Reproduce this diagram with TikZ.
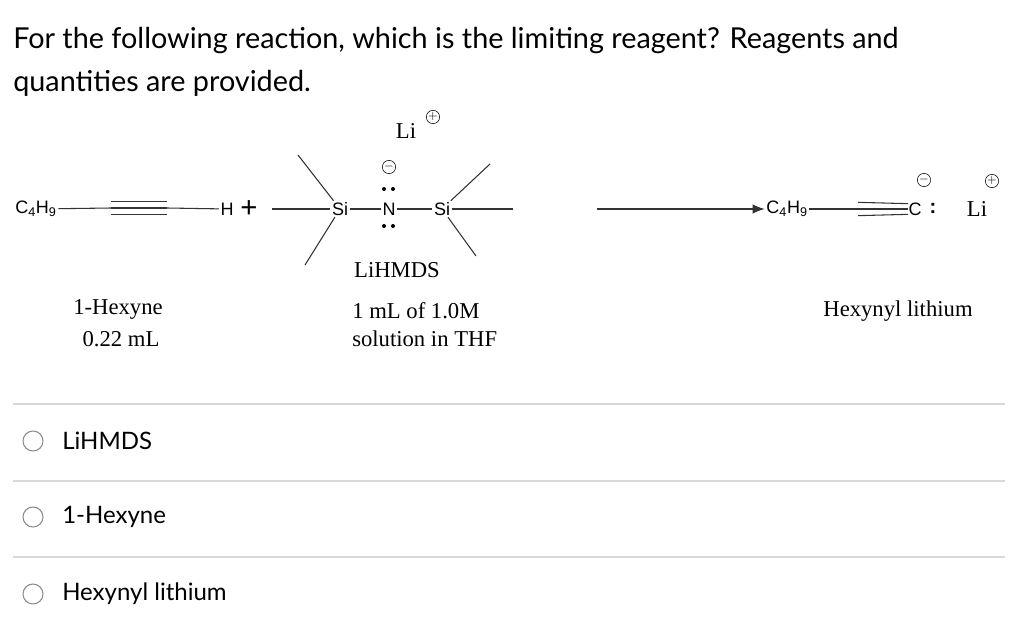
\documentclass[tikz,border=0pt]{standalone}
\usepackage{fontspec}
\setmainfont{Lato}
\newfontfamily\serifx{Liberation Serif}
\newfontfamily\sansx{Liberation Sans}
\usetikzlibrary{arrows.meta}
\begin{document}
\begin{tikzpicture}[x=0.75pt,y=-0.75pt,
  q/.style={anchor=base west,font=\fontsize{21.6}{24}\selectfont,inner sep=0},
  opt/.style={anchor=west,font=\fontsize{18}{20}\selectfont,inner sep=0},
  atm/.style={font=\sansx\fontsize{13.5}{15}\selectfont,inner sep=1pt},
  lab/.style={font=\serifx\fontsize{17}{19}\selectfont,inner sep=0},
  bond/.style={line width=0.8pt,draw=black!80},
  chg/.style={circle,draw,inner sep=0,minimum size=10pt,font=\sansx\fontsize{9}{9}\selectfont},
  sep/.style={draw=black!15,line width=0.8pt},
  radio/.style={circle,draw=black!45,line width=0.8pt,minimum size=15pt,inner sep=0}]
\useasboundingbox (0,0) rectangle (1024,631);
\node[q] (q1) at (13,49) {For the following reaction, which is the limiting reagent? Reagents and};
\node[q] (q2) at (13,92) {quantities are provided.};
% hexyne
\node[atm] (c4) at (36,209) {C\textsubscript{4}H\textsubscript{9}};
\node[atm] (h) at (227,209) {H};
\coordinate (t1) at (111,208); \coordinate (t2) at (167,208);
\draw[bond] (c4) -- (t1);
\draw[bond] (t1) -- (t2);
\draw[bond] ([yshift=-5]t1) -- ([yshift=-5]t2);
\draw[bond] ([yshift=5]t1) -- ([yshift=5]t2);
\draw[bond] (t2) -- (h);
\node[font=\sansx\fontsize{22}{22}\selectfont] (plus) at (249,209) {+};
% LiHMDS
\node[atm] (si1) at (340,209) {Si};
\node[atm] (n) at (389,209) {N};
\node[atm] (si2) at (442,209) {Si};
\coordinate (m0) at (272,209); \coordinate (m1) at (298,155); \coordinate (m2) at (305,265);
\coordinate (m3) at (513,209); \coordinate (m4) at (490,164); \coordinate (m5) at (476,256);
\draw[bond] (m0) -- (si1);
\draw[bond] (si1) -- (m1);
\draw[bond] (si1) -- (m2);
\draw[bond] (si1) -- (n);
\draw[bond] (n) -- (si2);
\draw[bond] (si2) -- (m3);
\draw[bond] (si2) -- (m4);
\draw[bond] (si2) -- (m5);
\foreach \xx/\yy in {384/189,393/189,384/226,393/226}
  \fill (\xx,\yy) circle (2);
\node[chg] (nm) at (389,167) {$-$};
\node[lab] (li1) at (406,131) {Li};
\node[chg] (lip) at (433,117) {$+$};
\node[lab] (lh) at (397,270) {LiHMDS};
\node[lab,anchor=west] (s1) at (352,311) {1 mL of 1.0M};
\node[lab,anchor=west] (s2) at (352,339) {solution in THF};
\node[lab] (hx) at (118,309) {1-Hexyne};
\node[lab] (hv) at (121,339) {0.22 mL};
% product
\node[atm] (c4b) at (787,209) {C\textsubscript{4}H\textsubscript{9}};
\coordinate (a0) at (597,209);
\draw[bond,-{Latex[length=9pt,width=7pt]}] (a0) -- (c4b);
\node[atm] (cc) at (915,209) {C};
\node[atm,font=\sansx\bfseries\fontsize{15}{15}\selectfont] (col) at (933,208) {:};
\coordinate (u1) at (858,209); \coordinate (u2) at (908,209);
\draw[bond] (c4b) -- (u1);
\draw[bond] (u1) -- (u2);
\draw[bond] ([yshift=-5]u1) -- ([yshift=-4]u2);
\draw[bond] ([yshift=5]u1) -- ([yshift=4]u2);
\node[chg] (cm) at (924,180) {$-$};
\node[lab] (li2) at (977,209) {Li};
\node[chg] (lp2) at (992,181) {$+$};
\node[lab] (hl) at (898,311) {Hexynyl lithium};
% options
\coordinate (l1a) at (13,404); \coordinate (l1b) at (1005,404);
\coordinate (l2a) at (13,481); \coordinate (l2b) at (1005,481);
\coordinate (l3a) at (13,557); \coordinate (l3b) at (1005,557);
\draw[sep] (l1a) -- (l1b); \draw[sep] (l2a) -- (l2b); \draw[sep] (l3a) -- (l3b);
\node[radio] (r1) at (33,441) {}; \node[opt] (o1) at (62,441) {LiHMDS};
\node[radio] (r2) at (33,517) {}; \node[opt] (o2) at (62,517) {1-Hexyne};
\node[radio] (r3) at (33,594) {}; \node[opt] (o3) at (62,594) {Hexynyl lithium};
\end{tikzpicture}
\end{document}
